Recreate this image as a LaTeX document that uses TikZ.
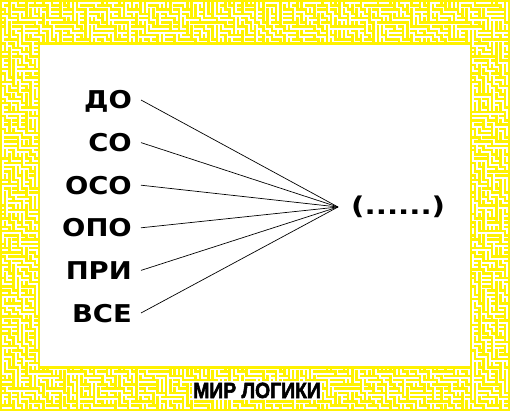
\documentclass[tikz,border=0pt]{standalone}
\usepackage{fontspec}
\setmainfont{DejaVu Sans}
\newfontfamily\titlefont[BoldFeatures={FakeBold=2.5}]{Liberation Sans}
\usetikzlibrary{positioning}
\definecolor{mazeyellow}{RGB}{255,242,0}

\begin{document}
\begin{tikzpicture}[x=1pt,y=-1pt]
\tikzstyle{every node}+=[inner sep=0pt]
\tikzstyle{wall}=[draw=mazeyellow,line width=2.5pt,line cap=rect]
\tikzstyle{word}=[anchor=east,inner xsep=8pt,xscale=1.12,font=\bfseries\fontsize{24.5}{28}\selectfont,text height=18pt,text depth=0pt]
\tikzstyle{link}=[black,line width=0.7pt]
\useasboundingbox (0,0) rectangle (510,411);
\pgfmathsetseed{31}
% maze frame
\begin{scope}[shift={(1,1)},x=4.2333pt,y=-4.2604pt]
\draw [wall] foreach \i in {0,...,119} {foreach \j [evaluate=\j as \r using {random(0,1)}] in {0,...,9} {(\i,\j) -- ++(\r,1-\r)}};
\draw [wall] foreach \i in {0,...,119} {foreach \j [evaluate=\j as \r using {random(0,1)}] in {86,...,95} {(\i,\j) -- ++(\r,1-\r)}};
\draw [wall] foreach \i in {0,...,8} {foreach \j [evaluate=\j as \r using {random(0,1)}] in {10,...,85} {(\i,\j) -- ++(\r,1-\r)}};
\draw [wall] foreach \i in {111,...,119} {foreach \j [evaluate=\j as \r using {random(0,1)}] in {10,...,85} {(\i,\j) -- ++(\r,1-\r)}};
\draw [wall] (0,0) rectangle (120,96);
\draw [wall] (9,10) rectangle (111,86);
\end{scope}
% words
\node [word] (do) at (141,100) {ДО};
\node [word] (so) at (141,142.6) {СО};
\node [word] (oso) at (141,185.2) {ОСО};
\node [word] (opo) at (141,227.8) {ОПО};
\node [word] (pri) at (141,270.4) {ПРИ};
\node [word] (vse) at (141,313) {ВСЕ};
\coordinate (hub) at (338,207);
\node [anchor=west,xscale=1.2,font=\bfseries\fontsize{24.5}{28}\selectfont] (answer) at (351,207) {(......)};
\draw [link] (do.east) -- (hub);
\draw [link] (so.east) -- (hub);
\draw [link] (oso.east) -- (hub);
\draw [link] (opo.east) -- (hub);
\draw [link] (pri.east) -- (hub);
\draw [link] (vse.east) -- (hub);
% title
\node [fill=white,inner sep=1.5pt,xscale=0.88,font=\titlefont\bfseries\fontsize{22}{22}\selectfont,text height=16pt,text depth=0pt] (title) at (257,390) {МИР ЛОГИКИ};
\end{tikzpicture}
\end{document}
